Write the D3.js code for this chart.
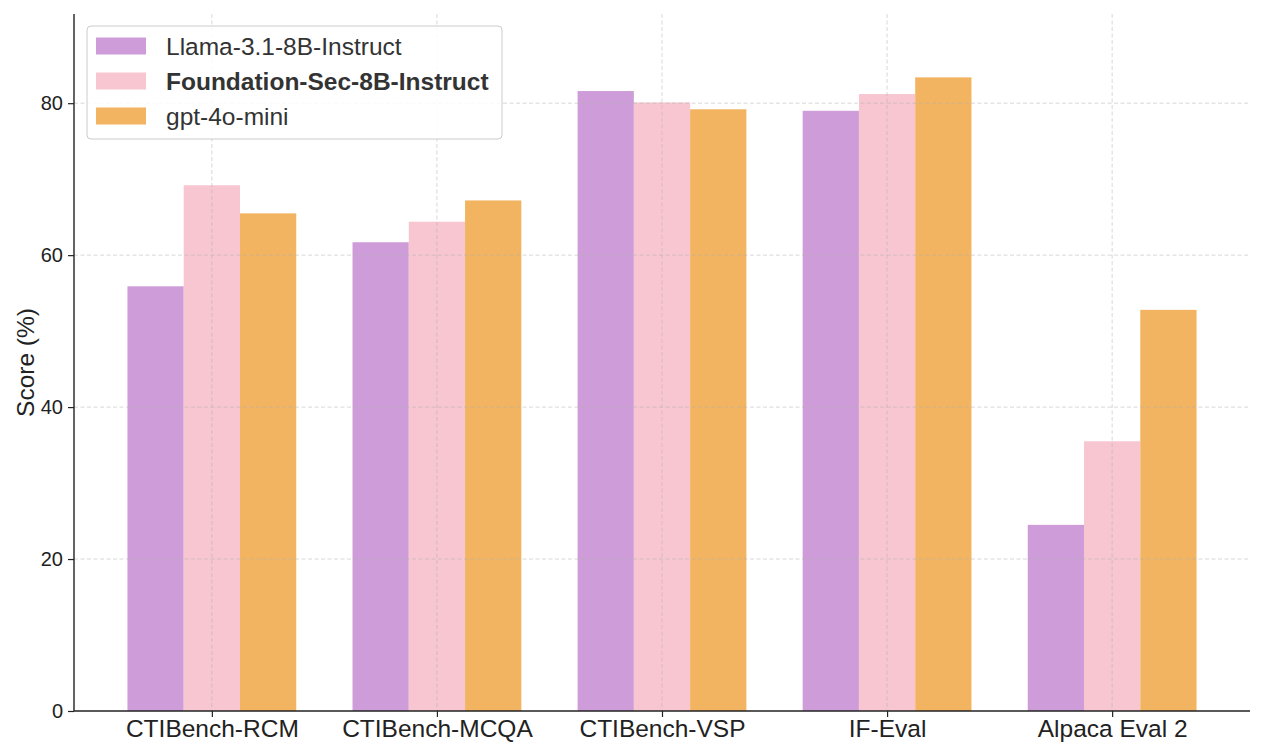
<!DOCTYPE html>
<html>
<head>
<meta charset="utf-8">
<script src="https://cdn.jsdelivr.net/npm/d3@7"></script>
<style>
  body { margin: 0; background: #fff; }
  svg text { font-family: "Liberation Sans", Arial, sans-serif; }
</style>
</head>
<body>
<svg id="chart" width="1266" height="756"></svg>
<script>
// benchmark names and scores
var benchmarks = ['CTIBench-RCM', 'CTIBench-MCQA', 'CTIBench-VSP', 'IF-Eval', 'Alpaca Eval 2'];
var models = ['Llama-3.1-8B-Instruct', 'Foundation-Sec-8B-Instruct', 'gpt-4o-mini'];
var llamaScores = [55.9, 61.7, 81.6, 79.0, 24.5];
var foundationScores = [69.2, 64.4, 80.1, 81.2, 35.5];
var gptScores = [65.5, 67.2, 79.2, 83.4, 52.8];
var yTicks = [0, 20, 40, 60, 80];

var colors = ['#ce9dd9', '#f7c6d0', '#f2b461'];
var series = [llamaScores, foundationScores, gptScores];

var margin = {left: 74, right: 16, top: 14, bottom: 45};
var width = 1266 - margin.left - margin.right,
    height = 756 - margin.top - margin.bottom;

var svg = d3.select('#chart');
var g = svg.append('g').attr('transform', 'translate(' + margin.left + ',' + margin.top + ')');

// index scale like matplotlib: bars 0.25 wide, 5% margins
var barW = 0.25;
var lo = -1.5 * barW, hi = benchmarks.length - 1 + 1.5 * barW;
var pad = (hi - lo) * 0.05;
var x = d3.scaleLinear().domain([lo - pad, hi + pad]).range([0, width]);

var maxVal = d3.max(series, function(s) { return d3.max(s); });
var y = d3.scaleLinear().domain([0, maxVal * 1.1]).range([height, 0]);

// bars
series.forEach(function(vals, si) {
  g.selectAll('.bar' + si)
    .data(vals)
    .enter().append('rect')
    .attr('class', 'bar' + si)
    .attr('x', function(d, i) { return x(i + (si - 1.5) * barW); })
    .attr('width', x(barW) - x(0))
    .attr('y', function(d) { return y(d); })
    .attr('height', function(d) { return height - y(d); })
    .attr('fill', colors[si]);
});

// grid on top of the bars
var grid = g.append('g').attr('stroke', '#b0b0b0').attr('stroke-opacity', 0.55)
  .attr('stroke-dasharray', '4,2.5').attr('stroke-width', 0.9);
grid.selectAll('.gy').data(yTicks.slice(1)).enter().append('line')
  .attr('x1', 0).attr('x2', width)
  .attr('y1', function(d) { return y(d); }).attr('y2', function(d) { return y(d); });
grid.selectAll('.gx').data(benchmarks).enter().append('line')
  .attr('y1', 0).attr('y2', height)
  .attr('x1', function(d, i) { return x(i); }).attr('x2', function(d, i) { return x(i); });

// axes
var yAxis = g.append('g')
  .call(d3.axisLeft(y).tickValues(yTicks).tickSize(6).tickPadding(5));
var xAxis = g.append('g').attr('transform', 'translate(0,' + height + ')')
  .call(d3.axisBottom(x).tickValues(d3.range(benchmarks.length))
    .tickFormat(function(i) { return benchmarks[i]; }).tickSize(6).tickPadding(3));

[yAxis, xAxis].forEach(function(a) {
  a.select('.domain').attr('stroke', '#222').attr('stroke-width', 1.4);
  a.selectAll('.tick line').attr('stroke', '#222').attr('stroke-width', 1.2);
});
yAxis.select('.domain').attr('d', 'M0,' + height + 'V0');
xAxis.select('.domain').attr('d', 'M0,0H' + width);
yAxis.selectAll('.tick text').attr('font-size', 20).attr('fill', '#222');
xAxis.selectAll('.tick text').attr('font-size', 24.5).attr('fill', '#222');

g.append('text')
  .attr('transform', 'translate(' + (25 - margin.left) + ',' + (height / 2) + ') rotate(-90)')
  .attr('text-anchor', 'middle').attr('dy', '0.35em')
  .attr('font-size', 24.5).attr('fill', '#222')
  .text('Score (%)');

// legend
var legend = svg.append('g').attr('transform', 'translate(87,26)');
legend.append('rect')
  .attr('width', 415).attr('height', 113).attr('rx', 4)
  .attr('fill', '#fff').attr('fill-opacity', 0.85)
  .attr('stroke', '#cccccc').attr('stroke-width', 1);
var items = legend.selectAll('.item').data(models).enter().append('g')
  .attr('transform', function(d, i) { return 'translate(9,' + (20 + i * 35) + ')'; });
items.append('rect')
  .attr('x', 0).attr('y', -8.5).attr('width', 50).attr('height', 17)
  .attr('fill', function(d, i) { return colors[i]; });
items.append('text')
  .attr('x', 70).attr('dy', '0.36em')
  .attr('font-size', 24.5).attr('fill', '#333')
  .attr('font-weight', function(d, i) { return i === 1 ? 'bold' : 'normal'; })
  .text(function(d) { return d; });
</script>
</body>
</html>
